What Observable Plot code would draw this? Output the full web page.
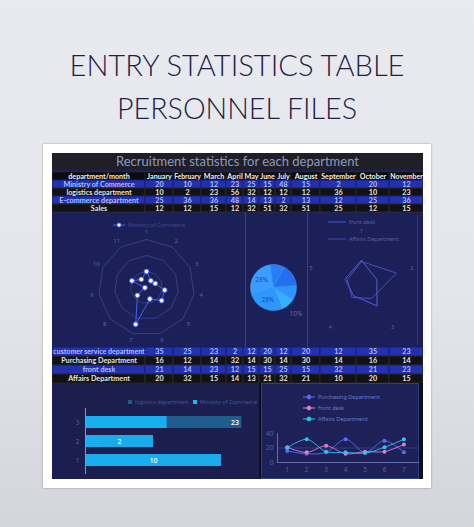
<!DOCTYPE html>
<html><head><meta charset="utf-8">
<script src="https://cdn.jsdelivr.net/npm/d3@7"></script>
<script src="https://cdn.jsdelivr.net/npm/@observablehq/plot@0.6"></script>
<style>
html,body{margin:0;padding:0}
body{width:474px;height:527px;overflow:hidden;position:relative;background:linear-gradient(#e9eaef 0%,#e5e6eb 55%,#d4d5dc 100%);font-family:"Noto Sans",sans-serif}
#head{position:absolute;left:0;top:0}
#card{position:absolute;left:43px;top:144px;width:388px;height:344px;background:#fff;box-shadow:0 0 2px rgba(0,0,0,.35)}
#dash{position:absolute;left:52px;top:153px;width:371px;height:326px;background:#1c2058;overflow:hidden}
.lg{position:absolute;font-size:5.5px;line-height:6px;white-space:nowrap;font-family:"Noto Sans",sans-serif}
</style></head><body>
<svg id="head" width="474" height="140">
  <text x="237" y="76" text-anchor="middle" textLength="335" lengthAdjust="spacingAndGlyphs" font-family="Lato, 'Noto Sans', sans-serif" font-weight="300" font-size="30" fill="#1e2144">ENTRY STATISTICS TABLE</text>
  <text x="237" y="119" text-anchor="middle" textLength="240" lengthAdjust="spacingAndGlyphs" font-family="Lato, 'Noto Sans', sans-serif" font-weight="300" font-size="30" fill="#1e2144">PERSONNEL FILES</text>
</svg>
<div id="card"></div>
<div id="dash"></div>
<script>
// ---------- data ----------
const tableTitle = "Recruitment statistics for each department";
const headerLabel = "department/month";
const months = ["January","February","March","April","May","June","July","August","September","October","November"];
const topDepts = ["Ministry of Commerce","logistics department","E-commerce department","Sales"];
const ministry  = [20,10,12,23,25,15,48,15,2,20,12];
const logistics = [10,2,23,56,32,12,12,12,36,10,23];
const ecommerce = [25,36,36,48,14,13,2,13,12,25,36];
const sales     = [12,12,15,12,32,51,32,51,25,12,15];
const bottomDepts = ["customer service department","Purchasing Department","front desk","Affairs Department"];
const customerService = [35,25,23,2,12,20,12,20,12,35,23];
const purchasing      = [16,12,14,32,14,30,14,30,14,16,14];
const frontDesk       = [21,14,23,12,15,15,25,15,32,21,23];
const affairs         = [20,32,15,14,13,21,32,21,10,20,15];
const radar1Labels = ["1","2","3","4","5","6","7","8","9","10","11"];
const radar1Rings = [20,40,60];
const radar2Labels = ["1","2","3","4","5"];
const pieShares = [28,10,16,10,10,26];
const pieLabels = ["28%","","","","10%","26%"];
const barCategories = ["1","2","3"];
const lineXTicks = [1,2,3,4,5,6,7];
const lineYTicks = [0,20,40];

// ---------- layout ----------
const W = 371;
const colWidths = [93,28,28,25,17,16,16,16,29,36,33,34];
const dash = document.getElementById("dash");
const font = "'Noto Sans', sans-serif";
const tableFont = "Lato, 'Noto Sans', sans-serif";
const ctx = document.createElement("canvas").getContext("2d");
function fitSize(text, width, base, weight) {
  ctx.font = `${weight} ${base}px Lato, 'Noto Sans'`;
  const w = ctx.measureText(text).width;
  return Math.min(base, base * (width - 1.5) / w);
}
function place(node, left, top) {
  node.style.position = "absolute"; node.style.left = left + "px"; node.style.top = top + "px";
  dash.appendChild(node); return node;
}
function box(left, top, w, h, css) {
  const d = document.createElement("div");
  d.style.cssText = `width:${w}px;height:${h}px;box-sizing:border-box;${css}`;
  return place(d, left, top);
}
const st = (extra) => Object.assign({background: "transparent", fontFamily: font, overflow: "visible"}, extra || {});

// title row
const tt = box(0, 0, W, 17, "background:#1f1f25;color:#8d9ac6;font:13px/17px Lato,'Noto Sans',sans-serif;text-align:center;");
tt.textContent = tableTitle;

// ---------- tables ----------
const kindStyle = {
  header: {bg: "#0b0b0d", fg: "#f0f0f0", line: "#2a2a2a"},
  blue:   {bg: "#2331ae", fg: "#aebfff", line: "#121a6e"},
  dark:   {bg: "#121214", fg: "#e2e2e2", line: "#313131"}
};
function tablePlot(names, values, withHeader, rowH) {
  const edges = d3.cumsum([0, ...colWidths]);
  const rows = withHeader ? [{name: headerLabel, cells: months, kind: "header"}] : [];
  names.forEach((n, i) => rows.push({name: n, cells: values[i], kind: i % 2 === 0 ? "blue" : "dark"}));
  const cells = [];
  rows.forEach(r => [r.name, ...r.cells].forEach((t, c) =>
    cells.push({row: r.name, x1: edges[c], x2: edges[c + 1], text: String(t), kind: r.kind,
                fs: fitSize(String(t), edges[c + 1] - edges[c], 7.2, 700)})));
  return Plot.plot({
    width: W, height: rows.length * rowH, margin: 0, style: st({fontFamily: tableFont}),
    x: {domain: [0, W], axis: null},
    y: {domain: rows.map(r => r.name), axis: null, padding: 0},
    color: {type: "identity"},
    marks: [
      Plot.barX(cells, {x1: "x1", x2: "x2", y: "row", fill: d => kindStyle[d.kind].bg, stroke: d => kindStyle[d.kind].line, strokeWidth: 0.7}),
      Plot.text(cells, {x: d => (d.x1 + d.x2) / 2, y: "row", text: "text", fill: d => kindStyle[d.kind].fg, fontSize: "fs", fontWeight: 700})
    ]
  });
}
place(tablePlot(topDepts, [ministry, logistics, ecommerce, sales], true, 8.6), 0, 17);
place(tablePlot(bottomDepts, [customerService, purchasing, frontDesk, affairs], false, 9), 0, 194);

// ---------- middle panels ----------
box(193, 59, 1, 135, "background:#34438f;");
box(255, 59, 1, 135, "background:#34438f;");
box(365, 62, 1, 130, "background:#2b3780;");

const ang = (i, n) => 2 * Math.PI * i / n;
const polar = (v, i, n) => ({x: v * Math.sin(ang(i, n)), y: v * Math.cos(ang(i, n))});

// radar 1 : Ministry of Commerce
{
  const n = ministry.length, k = 0.8, w = 193, h = 135, cx = 94, cy = 75;
  const ringPts = radar1Rings.flatMap(r => d3.range(n + 1).map(i => ({ring: r, ...polar(r, i % n, n)})));
  const pts = ministry.map((v, i) => ({v, ...polar(v, i, n)}));
  const labR = d3.max(radar1Rings) * 1.15;
  const labs = radar1Labels.map((t, i) => ({t, ...polar(labR, i, n)}));
  place(Plot.plot({
    width: w, height: h, margin: 0, style: st(),
    x: {domain: [-cx / k, (w - cx) / k], axis: null},
    y: {domain: [-(h - cy) / k, cy / k], axis: null},
    marks: [
      Plot.line(ringPts, {x: "x", y: "y", z: "ring", stroke: "#3c4692", strokeWidth: 0.8}),
      Plot.line([...pts, pts[0]], {x: "x", y: "y", stroke: "#4b5ff0", strokeWidth: 1}),
      Plot.dot(pts, {x: "x", y: "y", r: 2.4, fill: "#ffffff", stroke: "#4763f5", strokeWidth: 1}),
      Plot.text(labs, {x: "x", y: "y", text: "t", fill: "#5a64a0", fontSize: 6})
    ]
  }), 0, 59);
}

// pie
{
  const w = 62, h = 135, cx = 28, cy = 75, R = 23;
  const colors = ["#3a9cff", "#2a7cf5", "#2370ef", "#2f94ff", "#37adff", "#2d97ff"];
  const total = d3.sum(pieShares);
  let a = 251 * Math.PI / 180;
  const poly = [], labs = [];
  pieShares.forEach((s, j) => {
    const a0 = a, a1 = a + 2 * Math.PI * s / total; a = a1;
    const steps = Math.max(4, Math.ceil((a1 - a0) / 0.05));
    poly.push({slice: j, x: 0, y: 0, c: colors[j]});
    for (let t = 0; t <= steps; t++) {
      const th = a0 + (a1 - a0) * t / steps;
      poly.push({slice: j, x: R * Math.sin(th), y: R * Math.cos(th), c: colors[j]});
    }
    poly.push({slice: j, x: 0, y: 0, c: colors[j]});
    const mid = (a0 + a1) / 2, lr = s >= 20 ? R * 0.6 : R * 1.5;
    labs.push({t: pieLabels[j], x: lr * Math.sin(mid), y: lr * Math.cos(mid), inside: s >= 20});
  });
  place(Plot.plot({
    width: w, height: h, margin: 0, style: st(),
    x: {domain: [-cx, w - cx], axis: null},
    y: {domain: [-(h - cy), cy], axis: null},
    color: {type: "identity"},
    marks: [
      Plot.line(poly, {x: "x", y: "y", z: "slice", fill: "c", stroke: "#46a8ff", strokeWidth: 0.4}),
      Plot.text(labs.filter(d => d.inside), {x: "x", y: "y", text: "t", fill: "#2a48a8", fontSize: 6.5}),
      Plot.text(labs.filter(d => !d.inside), {x: "x", y: "y", text: "t", fill: "#5b68a6", fontSize: 6.5})
    ]
  }), 193, 59);
}

// radar 2 : front desk / Affairs Department (first 5 months)
{
  const n = radar2Labels.length, k = 1.15, w = 116, h = 135, cx = 54, cy = 72;
  const series = [
    {name: "front desk", vals: frontDesk.slice(0, n), color: "#5868de"},
    {name: "Affairs Department", vals: affairs.slice(0, n), color: "#4856c4"}
  ];
  const pts = series.flatMap(s => d3.range(n + 1).map(i => ({name: s.name, c: s.color, ...polar(s.vals[i % n], i % n, n)})));
  const labs = radar2Labels.map((t, i) => ({t, ...polar(46, i, n)}));
  place(Plot.plot({
    width: w, height: h, margin: 0, style: st(),
    x: {domain: [-cx / k, (w - cx) / k], axis: null},
    y: {domain: [-(h - cy) / k, cy / k], axis: null},
    color: {type: "identity"},
    marks: [
      Plot.line(pts, {x: "x", y: "y", z: "name", stroke: "c", strokeWidth: 0.9}),
      Plot.text(labs, {x: "x", y: "y", text: "t", fill: "#5a64a0", fontSize: 5.5})
    ]
  }), 255, 59);
}

// ---------- bottom panels ----------
box(0, 230, W, 96, "background:#0d0e1c;");
box(0, 230, 207, 96, "background:#1b1e4e;");
box(209, 230, 158, 96, "background:#1d2157;border:1px solid #2f3c84;");

// bar chart
{
  const barData = barCategories.map((c, i) => ({cat: c, ministry: ministry[i], logistics: logistics[i]}));
  place(Plot.plot({
    width: 207, height: 96, marginLeft: 33, marginRight: 4, marginTop: 25, marginBottom: 5,
    style: st({fontSize: "6.5px", color: "#56619c"}),
    x: {domain: [0, 25], axis: null},
    y: {domain: [...barCategories].reverse(), padding: 0.36, tickSize: 0, tickPadding: 6, label: null},
    marks: [
      Plot.barX(barData, {x: "logistics", y: "cat", fill: "#1f5d8c"}),
      Plot.barX(barData, {x: "ministry", y: "cat", fill: "#19b6f6", fillOpacity: 0.93}),
      Plot.ruleX([0], {stroke: "#8a93c4", strokeWidth: 1}),
      Plot.text(barData.filter(d => d.logistics > d.ministry), {x: "logistics", y: "cat", text: d => String(d.logistics), textAnchor: "end", dx: -3, fill: "#eef4ff", fontSize: 7, fontWeight: 600}),
      Plot.text(barData.filter(d => d.logistics <= d.ministry), {x: d => d.ministry / 2, y: "cat", text: d => String(d.logistics), fill: "#eef4ff", fontSize: 7, fontWeight: 600})
    ]
  }), 0, 230);
}

// line chart
{
  const series = [
    {name: "Purchasing Department", vals: purchasing, color: "#5a6cf6"},
    {name: "front desk", vals: frontDesk, color: "#e07ad2"},
    {name: "Affairs Department", vals: affairs, color: "#27c6f0"}
  ];
  const pts = series.flatMap(s => lineXTicks.map((x, i) => ({name: s.name, c: s.color, x, y: s.vals[i]})));
  place(Plot.plot({
    width: 158, height: 96, marginLeft: 16, marginRight: 0, marginTop: 50, marginBottom: 17,
    style: st({fontSize: "6.5px", color: "#56619c"}),
    x: {domain: [0.5, 7.8], ticks: lineXTicks, tickSize: 0, tickPadding: 5, label: null},
    y: {domain: [0, 40], ticks: lineYTicks, tickSize: 0, tickPadding: 4, label: null},
    color: {type: "identity"},
    marks: [
      Plot.ruleY([20], {stroke: "#34418a", strokeWidth: 0.8}),
      Plot.ruleY([0], {stroke: "#7380bb", strokeWidth: 0.8}),
      Plot.ruleX([0.5], {y1: 0, y2: 40, stroke: "#7380bb", strokeWidth: 0.8}),
      Plot.line(pts, {x: "x", y: "y", z: "name", stroke: "c", strokeWidth: 0.9, curve: "catmull-rom"}),
      Plot.dot(pts, {x: "x", y: "y", fill: "c", r: 2})
    ]
  }), 209, 230);
}

// ---------- legends ----------
function legend(x, y, kind, color, text, textColor) {
  const d = document.createElement("div");
  d.className = "lg";
  let sw;
  if (kind === "square") sw = `<svg width="5" height="6" style="vertical-align:top"><rect x="0" y="1" width="4" height="4" fill="${color}"/></svg>`;
  else if (kind === "line") sw = `<svg width="19" height="6" style="vertical-align:top"><line x1="0" x2="18" y1="3" y2="3" stroke="${color}" stroke-width="0.8"/></svg>`;
  else sw = `<svg width="13" height="6" style="vertical-align:top"><line x1="0" x2="12" y1="3" y2="3" stroke="${color}" stroke-width="1"/><circle cx="6" cy="3" r="2" fill="${kind === 'wdot' ? '#fff' : color}" stroke="${color}" stroke-width="0.8"/></svg>`;
  d.innerHTML = sw + `<span style="color:${textColor};margin-left:2px">${text}</span>`;
  return place(d, x, y - 3);
}
legend(61, 72, "wdot", "#4a63f5", topDepts[0], "#3f4a8e");
legend(276, 69, "line", "#5868de", bottomDepts[2], "#56629f");
legend(276, 86, "line", "#4856c4", bottomDepts[3], "#56629f");
legend(76, 249, "square", "#1f5d8c", topDepts[1], "#3f5a9c");
legend(141, 249, "square", "#19b6f6", topDepts[0], "#3f5a9c");
legend(251, 244, "dot", "#5a6cf6", bottomDepts[1], "#6c7bc8");
legend(251, 255, "dot", "#e07ad2", bottomDepts[2], "#6c7bc8");
legend(251, 266, "dot", "#27c6f0", bottomDepts[3], "#6c7bc8");
</script>
</body></html>
